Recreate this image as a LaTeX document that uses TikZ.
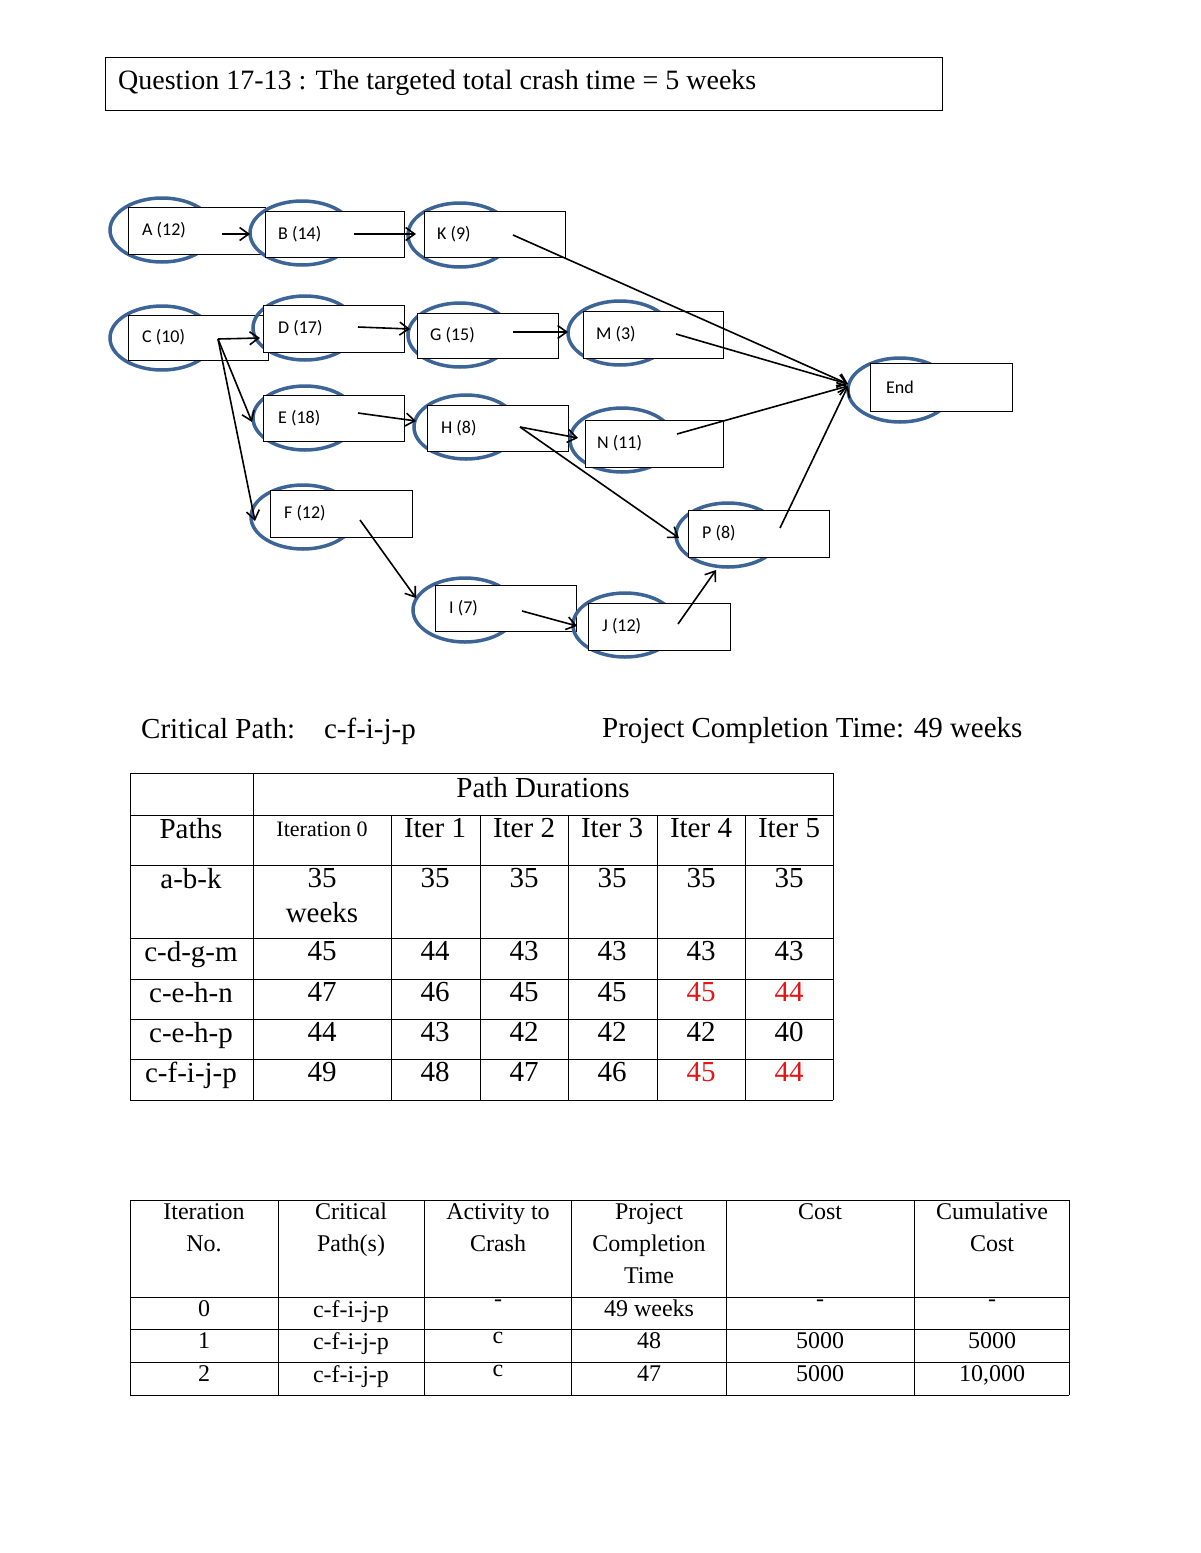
\documentclass[tikz,border=0pt]{standalone}
\usepackage{fontspec}
\setmainfont{Liberation Serif}
\newfontfamily\lab{Carlito}
\usetikzlibrary{arrows.meta,shapes.geometric}
\definecolor{eblue}{RGB}{60,100,150}
\definecolor{tred}{RGB}{230,20,20}
\tikzset{
 ell/.style={draw=eblue,line width=3.5pt,ellipse,minimum width=104pt,minimum height=64pt,inner sep=0},
 bx/.style={draw=black,fill=white,line width=0.8pt},
 lbl/.style={anchor=west,inner sep=0,font=\lab\fontsize{18}{20}\selectfont},
 arr/.style={line width=1.6pt,-{Straight Barb[length=9pt,width=13pt,line width=1.6pt]}},
 tl/.style={line width=0.9pt},
 t1/.style={font=\fontsize{29}{33}\selectfont,anchor=north,inner sep=0},
 t2/.style={font=\fontsize{24}{32}\selectfont,anchor=north,inner sep=0,align=center},
}
\newcommand\act[9]{%
 \node[ell] (#1e) at (#2,#3) {};
 \draw[bx] (#4,#5) rectangle (#6,#7);
 \node[lbl] (#1) at (#8,{(#5+#7)/2}) {#9};}
\begin{document}
\begin{tikzpicture}[x=1pt,y=-1pt]
\useasboundingbox (0,0) rectangle (1200,1553);
\node[draw,line width=0.8pt,minimum width=837pt,minimum height=53pt,anchor=north west] (title) at (105,57) {};
\node[anchor=west,inner sep=0,font=\fontsize{28}{32}\selectfont] (tt) at (118,83) {Question 17-13 : The targeted total crash time = 5 weeks};
\act{A}{162}{230}{128}{207}{265}{254}{142}{A (12)}
\act{B}{302}{233}{265}{211}{404}{257}{278}{B (14)}
\act{K}{460}{235}{424}{211}{565}{257}{437}{K (9)}
\act{C}{162}{338}{128}{315}{268}{360}{142}{C (10)}
\act{D}{305}{328}{263}{305}{404}{352}{278}{D (17)}
\act{G}{460}{335}{417}{313}{558}{358}{430}{G (15)}
\act{M}{620}{333}{583}{311}{723}{358}{596}{M (3)}
\act{E}{305}{418}{263}{395}{404}{441}{278}{E (18)}
\act{H}{466}{427}{427}{405}{568}{451}{441}{H (8)}
\act{N}{622}{440}{585}{420}{723}{467}{597}{N (11)}
\act{End}{900}{390}{870}{363}{1012}{411}{886}{End}
\act{F}{303}{517}{270}{490}{412}{537}{284}{F (12)}
\act{P}{728}{535}{688}{510}{829}{557}{702}{P (8)}
\act{I}{465}{610}{435}{585}{576}{631}{449}{I (7)}
\act{J}{625}{625}{588}{603}{730}{650}{602}{J (12)}
\coordinate (Ao) at (222,234); \coordinate (Bi) at (250,234);
\coordinate (Bo) at (354,234); \coordinate (Ki) at (416,234);
\coordinate (Ko) at (513,235); \coordinate (Endi) at (848,384);
\coordinate (Co) at (218,339); \coordinate (Di) at (260,338);
\coordinate (Ei) at (252,422); \coordinate (Fi) at (255,521);
\coordinate (Do) at (358,327); \coordinate (Gi) at (410,329);
\coordinate (Go) at (513,332); \coordinate (Mi) at (568,332);
\coordinate (Mo) at (676,334);
\coordinate (Eo) at (358,413); \coordinate (Hi) at (416,421);
\coordinate (Ho) at (520,427); \coordinate (Ni) at (578,438); \coordinate (Pi) at (679,538);
\coordinate (No) at (677,434); \coordinate (Endi2) at (848,386);
\coordinate (Fo) at (360,520); \coordinate (Ii) at (416,598);
\coordinate (Io) at (522,611); \coordinate (Ji) at (577,626);
\coordinate (Jo) at (678,624); \coordinate (Pi2) at (716,570);
\coordinate (Po) at (780,528); \coordinate (Endi3) at (848,386);
\foreach \a/\b in {Ao/Bi,Bo/Ki,Ko/Endi,Co/Di,Co/Ei,Co/Fi,Do/Gi,Go/Mi,Mo/Endi,Eo/Hi,Ho/Ni,Ho/Pi,No/Endi2,Fo/Ii,Io/Ji,Jo/Pi2,Po/Endi3}
 \draw[arr] (\a) -- (\b);
\node[anchor=west,inner sep=0,font=\fontsize{29}{33}\selectfont] (cp) at (141,731) {Critical Path:\ \ \ \ c-f-i-j-p};
\node[anchor=west,inner sep=0,font=\fontsize{29}{33}\selectfont] (pct) at (602,731) {Project Completion Time: 49 weeks};
% table 1
\foreach \y in {773,815,865,938,979,1019,1059,1100} \draw[tl] (130,\y) -- (833,\y);
\draw[tl] (130,773) -- (130,1100);
\draw[tl] (253,773) -- (253,1100);
\foreach \x in {391,480,568,657,745} \draw[tl] (\x,815) -- (\x,1100);
\draw[tl] (833,773) -- (833,1100);
\node[t1] (pd) at (543,777) {Path Durations};
\node[t1] (ph) at (191,818) {Paths};
\node[t1,font=\fontsize{22}{26}\selectfont] (i0) at (322,822) {Iteration 0};
\foreach \x/\t in {435/Iter 1,524/Iter 2,612/Iter 3,701/Iter 4,789/Iter 5} \node[t1] at (\x,818) {\t};
\node[t1,align=center,font=\fontsize{29}{35}\selectfont] (abk) at (322,868) {35\\weeks};
\node[t1] at (191,868) {a-b-k};
\foreach \x in {435,524,612,701,789} \node[t1] at (\x,868) {35};
\foreach \y/\p/\a/\b/\c/\d/\e/\f in {941/c-d-g-m/45/44/43/43/43/43, 982/c-e-h-n/47/46/45/45/{\color{tred}45}/{\color{tred}44}, 1022/c-e-h-p/44/43/42/42/42/40, 1062/c-f-i-j-p/49/48/47/46/{\color{tred}45}/{\color{tred}44}}{
 \node[t1] at (191,\y) {\p};
 \node[t1] at (322,\y) {\a};
 \node[t1] at (435,\y) {\b};
 \node[t1] at (524,\y) {\c};
 \node[t1] at (612,\y) {\d};
 \node[t1] at (701,\y) {\e};
 \node[t1] at (789,\y) {\f};}
% table 2
\foreach \y in {1200,1297,1329,1362,1395} \draw[tl] (130,\y) -- (1069,\y);
\foreach \x in {130,278,424,571,726,914,1069} \draw[tl] (\x,1200) -- (\x,1395);
\node[t2] at (204,1203) {Iteration\\No.};
\node[t2] at (351,1203) {Critical\\Path(s)};
\node[t2] at (498,1203) {Activity to\\Crash};
\node[t2] at (649,1203) {Project\\Completion\\Time};
\node[t2] at (820,1203) {Cost};
\node[t2] at (992,1203) {Cumulative\\Cost};
\foreach \y/\a/\b/\c/\d/\e/\f in {1300/0/c-f-i-j-p/-/49 weeks/-/-, 1332/1/c-f-i-j-p/c/48/5000/5000, 1365/2/c-f-i-j-p/c/47/5000/{10,000}}{
 \node[t2] at (204,\y) {\a};
 \node[t2] at (351,\y) {\b};
 \node[t2] at (498,\y) {\c};
 \node[t2] at (649,\y) {\d};
 \node[t2] at (820,\y) {\e};
 \node[t2] at (992,\y) {\f};}
\end{tikzpicture}
\end{document}
